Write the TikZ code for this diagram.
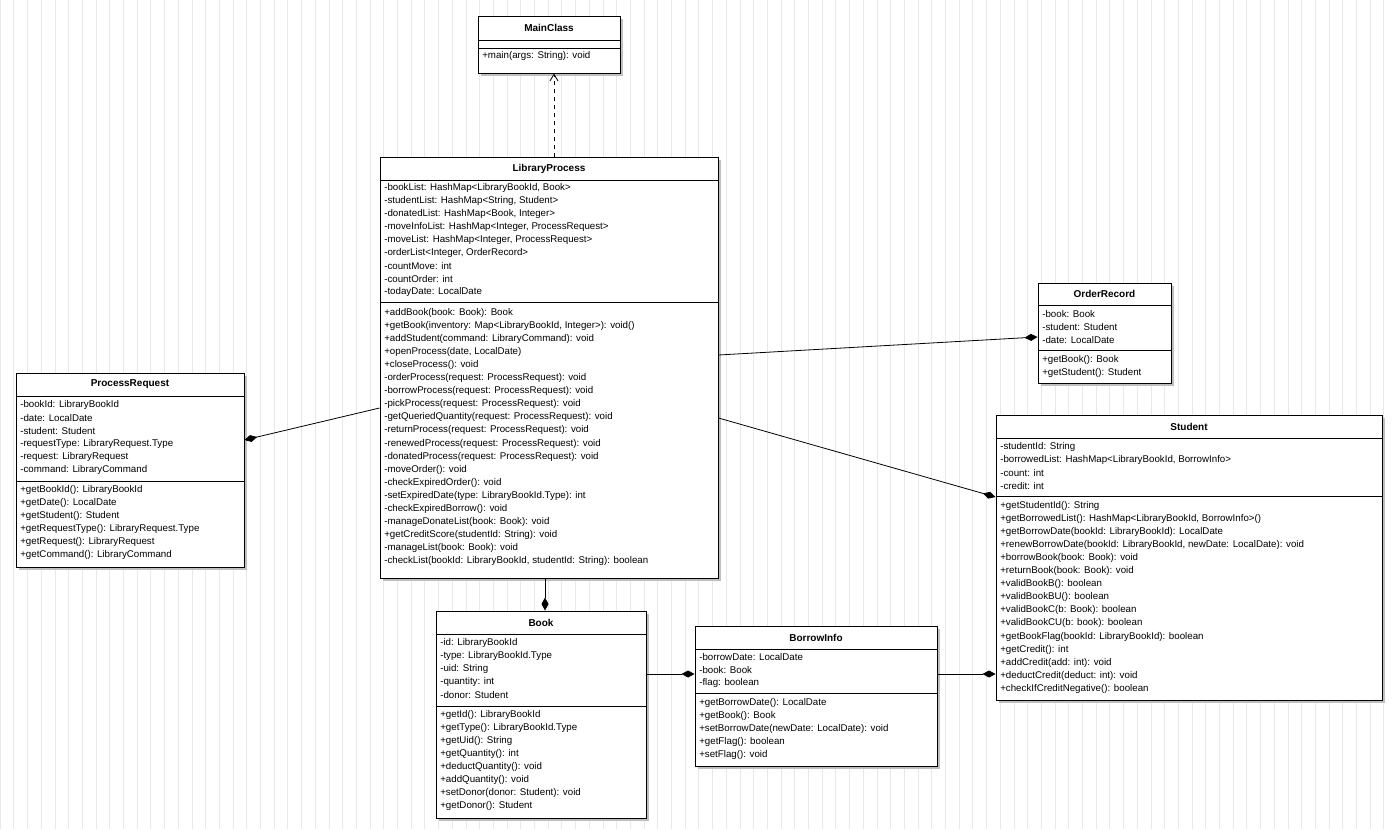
\documentclass[tikz,border=0pt]{standalone}
\usepackage{fontspec}
\setmainfont{Liberation Sans}
\usetikzlibrary{arrows.meta,fit}
\begin{document}
\begin{tikzpicture}[x=0.75pt,y=-0.75pt,
  txt/.style={anchor=west,inner sep=0,font=\fontsize{7.3}{8}\selectfont},
  ttl/.style={inner sep=0,font=\fontsize{7.5}{8}\selectfont\bfseries},
  box/.style={draw=black,fill=white,inner sep=0,line width=0.7pt},
  comp/.style={-{Diamond[length=13pt*0.75,width=7pt*0.75,fill=black]},line width=0.6pt},
  dep/.style={dashed,-{Straight Barb[length=5pt,width=6pt]},line width=0.6pt}]
\useasboundingbox (0,0) rectangle (1397,829);
\fill[white] (0,0) rectangle (1397,829);
\draw[black!9,line width=0.4pt,step=13.7] (0,0) grid (1397,829);
\newcommand\cls[8]{%
  \fill[black!25] (#2+3,#3+3) rectangle (#4+3,#5+3);
  \node[box,fit={(#2,#3) (#4,#5)}] (#1) {};
  \draw[line width=0.6pt] (#2,#6) -- (#4,#6);
  \draw[line width=0.6pt] (#2,#7) -- (#4,#7);
  \node[ttl] at ({(#2+#4)/2},{(#3+#6)/2}) {#8};}
\newcommand\rows[4]{\foreach \t [count=\i from 0] in {#4} \node[txt] at (#1,#2+\i*#3) {\t};}

\cls{MC}{478}{16}{620}{73}{40}{48}{MainClass}
\node[txt] at (482,56) {+main(args: String): void};

\cls{LP}{380}{157}{718}{578}{180}{302}{LibraryProcess}
\rows{384}{187.5}{13.05}{-bookList: {HashMap<LibraryBookId, Book>},-studentList: {HashMap<String, Student>},-donatedList: {HashMap<Book, Integer>},-moveInfoList: {HashMap<Integer, ProcessRequest>},-moveList: {HashMap<Integer, ProcessRequest>},{-orderList<Integer, OrderRecord>},-countMove: int,-countOrder: int,-todayDate: LocalDate}
\rows{384}{313}{13.05}{+addBook(book: Book): Book,+getBook(inventory: {Map<LibraryBookId, Integer>}): void(),+addStudent(command: LibraryCommand): void,{+openProcess(date, LocalDate)},+closeProcess(): void,-orderProcess(request: ProcessRequest): void,-borrowProcess(request: ProcessRequest): void,-pickProcess(request: ProcessRequest): void,-getQueriedQuantity(request: ProcessRequest): void,-returnProcess(request: ProcessRequest): void,-renewedProcess(request: ProcessRequest): void,-donatedProcess(request: ProcessRequest): void,-moveOrder(): void,-checkExpiredOrder(): void,-setExpiredDate(type: LibraryBookId.Type): int,-checkExpiredBorrow(): void,-manageDonateList(book: Book): void,+getCreditScore(studentId: String): void,-manageList(book: Book): void,{-checkList(bookId: LibraryBookId, studentId: String): boolean}}

\cls{OR}{1038}{283}{1171}{383}{305}{350}{OrderRecord}
\rows{1042}{314}{13.05}{-book: Book,-student: Student,-date: LocalDate}
\rows{1042}{360}{13.05}{+getBook(): Book,+getStudent(): Student}

\cls{PR}{16}{373}{244}{567}{396}{481}{ProcessRequest}
\rows{20}{405}{13.05}{-bookId: LibraryBookId,-date: LocalDate,-student: Student,-requestType: LibraryRequest.Type,-request: LibraryRequest,-command: LibraryCommand}
\rows{20}{490}{13.05}{+getBookId(): LibraryBookId,+getDate(): LocalDate,+getStudent(): Student,+getRequestType(): LibraryRequest.Type,+getRequest(): LibraryRequest,+getCommand(): LibraryCommand}

\cls{ST}{996}{415}{1382}{700}{438}{496}{Student}
\rows{1000}{447}{13.05}{-studentId: String,-borrowedList: {HashMap<LibraryBookId, BorrowInfo>},-count: int,-credit: int}
\rows{1000}{506}{13.05}{+getStudentId(): String,+getBorrowedList(): {HashMap<LibraryBookId, BorrowInfo>()},+getBorrowDate(bookId: LibraryBookId): LocalDate,{+renewBorrowDate(bookId: LibraryBookId, newDate: LocalDate): void},+borrowBook(book: Book): void,+returnBook(book: Book): void,+validBookB(): boolean,+validBookBU(): boolean,+validBookC(b: Book): boolean,+validBookCU(b: book): boolean,+getBookFlag(bookId: LibraryBookId): boolean,+getCredit(): int,+addCredit(add: int): void,+deductCredit(deduct: int): void,+checkIfCreditNegative(): boolean}

\cls{BK}{436}{611}{646}{818}{634}{706}{Book}
\rows{440}{643}{13.05}{-id: LibraryBookId,-type: LibraryBookId.Type,-uid: String,-quantity: int,-donor: Student}
\rows{440}{715}{13.05}{+getId(): LibraryBookId,+getType(): LibraryBookId.Type,+getUid(): String,+getQuantity(): int,+deductQuantity(): void,+addQuantity(): void,+setDonor(donor: Student): void,+getDonor(): Student}

\cls{BI}{695}{626}{937}{766}{649}{693}{BorrowInfo}
\rows{699}{657}{13.05}{-borrowDate: LocalDate,-book: Book,-flag: boolean}
\rows{699}{703}{13.05}{+getBorrowDate(): LocalDate,+getBook(): Book,+setBorrowDate(newDate: LocalDate): void,+getFlag(): boolean,+setFlag(): void}

\draw[dep] (LP.north -| 554,0) -- (MC.south -| 554,0);
\draw[comp] (LP.east |- 0,355) -- (OR.west |- 0,337);
\draw[comp] (LP.west |- 0,408) -- (PR.east |- 0,440);
\draw[comp] (LP.east |- 0,418) -- (ST.west |- 0,497);
\draw[comp] (LP.south -| 545,0) -- (BK.north -| 545,0);
\draw[comp] (BK.east |- 0,674) -- (BI.west |- 0,674);
\draw[comp] (BI.east |- 0,674) -- (ST.west |- 0,674);
\end{tikzpicture}
\end{document}
